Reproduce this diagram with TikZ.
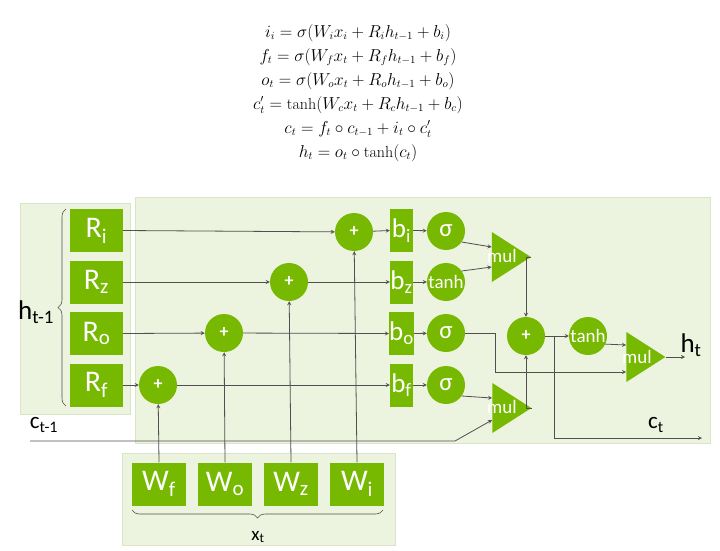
\documentclass[tikz,border=0pt]{standalone}
\usepackage{fontspec}
\usepackage{amsmath}
\newfontfamily\sansf{Carlito}
\usetikzlibrary{shapes.geometric,decorations.pathreplacing,calc}
\definecolor{ng}{RGB}{118,185,0}
\definecolor{pan}{RGB}{236,243,222}
\definecolor{pbd}{RGB}{218,228,200}
\definecolor{ln}{RGB}{80,80,80}
\begin{document}
\begin{tikzpicture}[x=1pt,y=-1pt,
  box/.style={fill=ng,text=white,font=\sansf\fontsize{30}{30}\selectfont,minimum width=53pt,minimum height=43pt,inner sep=0},
  bb/.style={fill=ng,text=white,font=\sansf\fontsize{27}{27}\selectfont,minimum width=23pt,minimum height=43pt,inner sep=0},
  cir/.style={circle,fill=ng,text=white,font=\sansf\bfseries\fontsize{18}{18}\selectfont,minimum size=38pt,inner sep=0},
  tri/.style={isosceles triangle,isosceles triangle stretches=true,fill=ng,text=white,minimum width=50pt,minimum height=39pt,inner sep=0},
  mt/.style={font=\sansf\fontsize{19}{19}\selectfont,text=white,inner sep=0},
  ar/.style={->,>=stealth,draw=ln,line width=0.8pt},
  pl/.style={draw=ln,line width=0.8pt},
  lab/.style={font=\sansf\fontsize{27}{27}\selectfont}]
\useasboundingbox (0,0) rectangle (720,551);
\fill[white] (0,0) rectangle (720,551);
% equations
\node (eq) at (358,93) {\fontsize{16}{21}\selectfont$\begin{gathered}
i_i=\sigma(W_ix_i+R_ih_{t-1}+b_i)\\
f_t=\sigma(W_fx_t+R_fh_{t-1}+b_f)\\
o_t=\sigma(W_ox_t+R_oh_{t-1}+b_o)\\
c'_t=\tanh(W_cx_t+R_ch_{t-1}+b_c)\\
c_t=f_t\circ c_{t-1}+i_t\circ c'_t\\
h_t=o_t\circ\tanh(c_t)
\end{gathered}$};
% panels
\filldraw[fill=pan,draw=pbd] (135,197) rectangle (710,443);
\filldraw[fill=pan,draw=pbd] (20,203) rectangle (130,414);
\filldraw[fill=pan,draw=pbd] (122,453) rectangle (395,545);
% R boxes
\node[box] (Ri) at (96.5,230.5) {R\textsubscript{i}};
\node[box] (Rz) at (96.5,282) {R\textsubscript{z}};
\node[box] (Ro) at (96.5,333.5) {R\textsubscript{o}};
\node[box] (Rf) at (96.5,385) {R\textsubscript{f}};
\draw[pl,line width=0.6pt,decorate,decoration={brace,amplitude=8pt}] (66,406) -- (66,209);
\node[lab] (ht1) at (36,312) {h\textsubscript{t-1}};
% W boxes
\node[box,minimum width=54pt] (Wf) at (159,484) {W\textsubscript{f}};
\node[box,minimum width=54pt] (Wo) at (225,484) {W\textsubscript{o}};
\node[box,minimum width=54pt] (Wz) at (291,484) {W\textsubscript{z}};
\node[box,minimum width=54pt] (Wi) at (357,484) {W\textsubscript{i}};
\draw[pl,line width=0.6pt,decorate,decoration={brace,amplitude=8pt}] (383,510) -- (132,510);
\node[font=\sansf\fontsize{19}{19}\selectfont] (xt) at (258,537) {x\textsubscript{t}};
% plus nodes
\node[cir] (pi) at (354,232) {+};
\node[cir] (pz) at (289,282) {+};
\node[cir] (po) at (224,333) {+};
\node[cir] (pf) at (158,385) {+};
% b boxes
\node[bb] (bi) at (401.5,230.5) {b\textsubscript{i}};
\node[bb] (bz) at (401.5,282) {b\textsubscript{z}};
\node[bb] (bo) at (401.5,333.5) {b\textsubscript{o}};
\node[bb] (bf) at (401.5,385) {b\textsubscript{f}};
% activations
\node[cir,font=\sansf\fontsize{25}{25}\selectfont] (si) at (446,231) {σ};
\node[cir,font=\sansf\fontsize{19}{19}\selectfont] (tz) at (446,282) {tanh};
\node[cir,font=\sansf\fontsize{25}{25}\selectfont] (so) at (446,333) {σ};
\node[cir,font=\sansf\fontsize{25}{25}\selectfont] (sf) at (446,385) {σ};
% mul
\node[tri] (m1) at (505.5,257) {};
\node[tri] (m2) at (506,408) {};
\node[mt] (m1t) at (502,256) {mul};
\node[mt] (m2t) at (502,407) {mul};
\node[cir] (pc) at (526,336) {+};
\node[cir,font=\sansf\fontsize{19}{19}\selectfont] (tc) at (588,336) {tanh};
\node[tri] (m3) at (640,357) {};
\node[mt] (m3t) at (637,357) {mul};
\node[lab] (ht) at (691,345) {h\textsubscript{t}};
\node[font=\sansf\fontsize{23}{23}\selectfont] (ct) at (656,425) {c\textsubscript{t}};
\node[font=\sansf\fontsize{23}{23}\selectfont] (ct1) at (44,425) {c\textsubscript{t-1}};
\coordinate (hend) at (685,357);
\coordinate (cend) at (702,438);
\coordinate (cst) at (30,441);
% connections
\foreach \r/\p in {Ri/pi,Rz/pz,Ro/po,Rf/pf} \draw[ar] (\r.east) -- (\p);
\foreach \w/\p in {Wf/pf,Wo/po,Wz/pz,Wi/pi} \draw[ar] (\w.north) -- (\p);
\foreach \p/\b in {pi/bi,pz/bz,po/bo,pf/bf} \draw[ar] (\p) -- (\b.west);
\foreach \b/\s in {bi/si,bz/tz,bo/so,bf/sf} \draw[ar] (\b.east) -- (\s);
\draw[ar] (si.-35) -- ($(m1.lower side)+(0,-10)$);
\draw[ar] (tz.35) -- ($(m1.lower side)+(0,10)$);
\draw[ar] (sf.-35) -- ($(m2.lower side)+(0,-10)$);
\draw[ar] (cst) -- (455,441) -- ($(m2.lower side)+(0,12)$);
\draw[ar] (m1.apex) -- (526,257) -- (pc.north);
\draw[ar] (m2.apex) -- (526,408) -- (pc.south);
\draw[ar] (so.east) -- (495,333) -- (495,372) -- ($(m3.lower side)+(0,15)$);
\draw[ar] (pc) -- (tc);
\draw[ar] (tc.-25) -- ($(m3.lower side)+(0,-12)$);
\draw[ar] (m3.apex) -- (hend);
\draw[ar] (554,336) -- (554,438) -- (cend);
\end{tikzpicture}
\end{document}
